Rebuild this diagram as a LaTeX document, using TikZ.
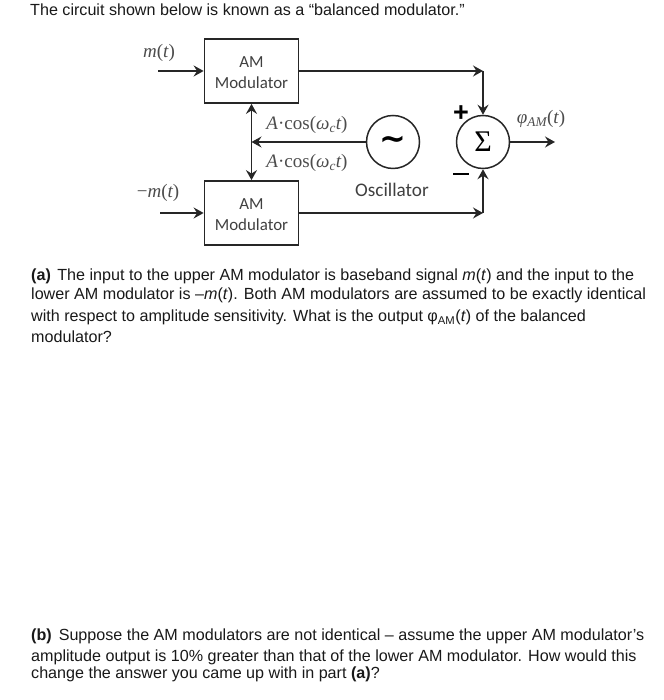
\documentclass[tikz,border=0pt]{standalone}
\usepackage{fontspec}
\setmainfont{Liberation Sans}
\newfontfamily\calib{Carlito}
\newfontfamily\serf{Liberation Serif}
\newfontfamily\djv{DejaVu Sans}
\newcommand{\mvar}[1]{{\serf\itshape #1}}
\usetikzlibrary{arrows.meta}
\tikzset{
 x=1pt,y=1pt,
 wire/.style={line width=1.6pt,draw=black!85},
 arrowwire/.style={wire,-{Stealth[length=10pt,width=11pt,inset=3.5pt]}},
 ambox/.style={draw=black!85,line width=1.8pt,minimum width=94pt,inner sep=0pt,align=center,font=\calib\fontsize{16.9}{21}\selectfont,text=black!75},
 disc/.style={circle,draw=black!85,line width=1.5pt,minimum size=53pt,inner sep=0pt},
 para/.style={anchor=base west,inner sep=0pt,font=\fontsize{16.12}{18}\selectfont,text=black!90},
 mlabel/.style={inner sep=0pt,text=black!70,font=\serf\fontsize{19}{21}\selectfont},
 clabel/.style={inner sep=0pt,text=black!75,font=\calib\fontsize{19.2}{21}\selectfont},
 sign/.style={inner sep=0pt,font=\bfseries\fontsize{27}{27}\selectfont}
}
\begin{document}
\begin{tikzpicture}
\useasboundingbox (0,0) rectangle (663,700);
\fill[white] (0,0) rectangle (663,700);
\node[para] (title) at (30,684) {The circuit shown below is known as a “balanced modulator.”};
% diagram
\node[ambox,minimum height=64pt] (up) at (251.5,629) {\rule{0pt}{15pt}AM\\Modulator};
\node[ambox,minimum height=64pt] (lo) at (251.5,487) {\rule{0pt}{15pt}AM\\Modulator};
\node[disc] (osc) at (393,558) {};
\node[disc] (sum) at (483,558) {\serf\fontsize{30}{30}\selectfont Σ};
\node[inner sep=0pt,font=\djv\bfseries\fontsize{32}{32}\selectfont] (tilde) at (393,557) {∼};
\coordinate (inU) at (158,629);
\coordinate (inL) at (160,487);
\coordinate (outS) at (555,558);
\coordinate (join) at (up.south |- osc.west);
\coordinate (cornerU) at (sum.north |- up.east);
\coordinate (cornerL) at (sum.south |- lo.east);
\draw[arrowwire] (inU) -- (up.west);
\draw[arrowwire] (inL) -- (lo.west);
\draw[arrowwire] (osc.west) -- (join);
\draw[arrowwire] (join) -- (up.south);
\draw[arrowwire] (join) -- (lo.north);
\draw[arrowwire] (up.east) -- (cornerU);
\draw[arrowwire] (lo.east) -- (cornerL);
\draw[arrowwire] (cornerU) -- (sum.north);
\draw[arrowwire] (cornerL) -- (sum.south);
\draw[arrowwire] (sum.east) -- (outS);
\node[mlabel] (lm) at (159,647) {\mvar{m}(\mvar{t})};
\node[mlabel] (lnm) at (158,507) {−\mvar{m}(\mvar{t})};
\node[mlabel] (cu) at (307,575) {\mvar{A}·cos(\mvar{ω}\textsubscript{\mvar{c}}\mvar{t})};
\node[mlabel] (cl) at (307,537) {\mvar{A}·cos(\mvar{ω}\textsubscript{\mvar{c}}\mvar{t})};
\node[clabel] (osl) at (392,510) {Oscillator};
\node[sign] (plus) at (461,586) {+};
\node[sign] (minus) at (461,526) {\rule{16pt}{2.4pt}};
\node[mlabel] (phi) at (541,581) {\mvar{φ}\textsubscript{\mvar{AM}}(\mvar{t})};
% text
\node[para] (a1) at (31,419) {\textbf{(a)}\hspace{2pt} The input to the upper AM modulator is baseband signal \textit{m}(\textit{t}) and the input to the};
\node[para] (a2) at (31,400) {lower AM modulator is –\textit{m}(\textit{t}). Both AM modulators are assumed to be exactly identical};
\node[para] (a3) at (31,378) {with respect to amplitude sensitivity. What is the output φ\textsubscript{AM}(\textit{t}) of the balanced};
\node[para] (a4) at (31,357) {modulator?};
\node[para] (b1) at (31,59) {\textbf{(b)}\hspace{2.5pt} Suppose the AM modulators are not identical – assume the upper AM modulator’s};
\node[para] (b2) at (31,38) {amplitude output is 10\% greater than that of the lower AM modulator. How would this};
\node[para] (b3) at (31,21) {change the answer you came up with in part \textbf{(a)}?};
\end{tikzpicture}
\end{document}
